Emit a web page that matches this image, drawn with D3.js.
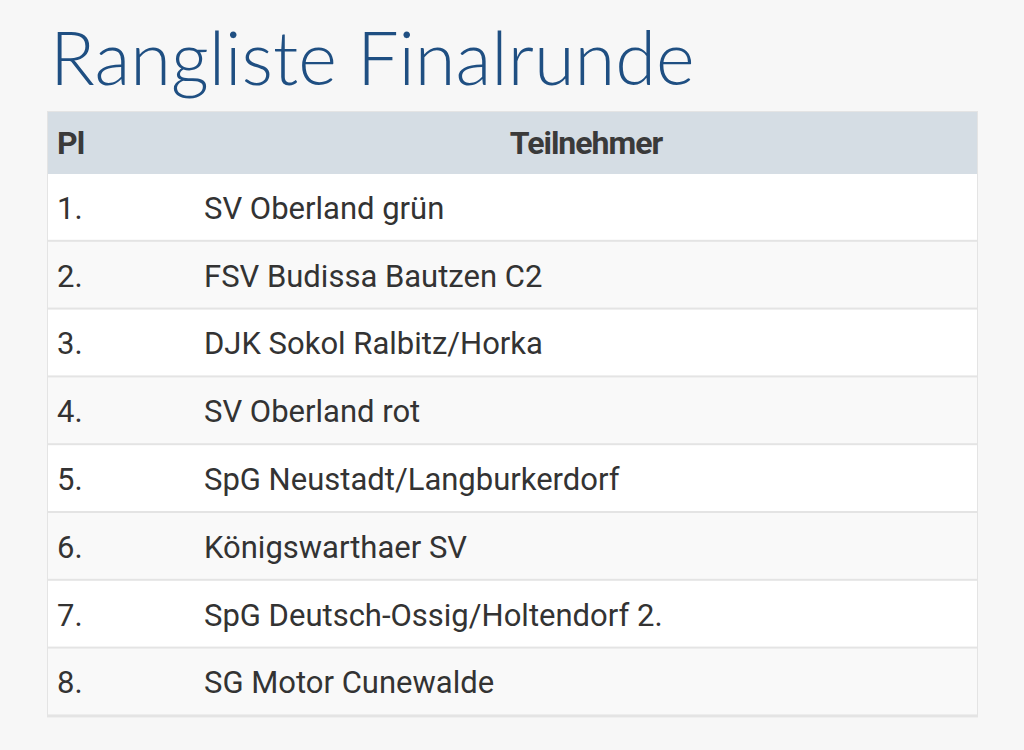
<!DOCTYPE html>
<html lang="de">
<head>
<meta charset="UTF-8">
<title>Rangliste Finalrunde</title>
<script src="https://d3js.org/d3.v7.min.js"></script>
<style>
  body { margin: 0; background: #f7f7f7; }
  svg { display: block; }
</style>
</head>
<body>
<div id="chart"></div>
<script>
// Daten
const platz = ["1.", "2.", "3.", "4.", "5.", "6.", "7.", "8."];
const teilnehmer = [
  "SV Oberland grün",
  "FSV Budissa Bautzen C2",
  "DJK Sokol Ralbitz/Horka",
  "SV Oberland rot",
  "SpG Neustadt/Langburkerdorf",
  "Königswarthaer SV",
  "SpG Deutsch-Ossig/Holtendorf 2.",
  "SG Motor Cunewalde"
];
const kopf = ["Pl", "Teilnehmer"];

const W = 1024, H = 750;
const tLeft = 48, tRight = 977, tTop = 112, headH = 62, rowH = 67.8;
const col2 = 195;

const svg = d3.select("#chart").append("svg")
  .attr("width", W).attr("height", H);

svg.append("rect").attr("width", W).attr("height", H).attr("fill", "#f7f7f7");

svg.append("text")
  .attr("x", 50).attr("y", 85)
  .attr("font-family", "Lato, 'Open Sans', sans-serif")
  .attr("font-weight", 300)
  .attr("font-size", 74)
  .attr("fill", "#1f4f82")
  .text("Rangliste Finalrunde");

// Zeilen-Skala
const y = d3.scaleBand()
  .domain(d3.range(platz.length))
  .range([tTop + headH, tTop + headH + rowH * platz.length]);

// Rahmen
svg.append("rect")
  .attr("x", tLeft - 1).attr("y", tTop - 1)
  .attr("width", tRight - tLeft + 2).attr("height", headH + rowH * platz.length + 2)
  .attr("fill", "#e4e4e4");

// Kopf
svg.append("rect")
  .attr("x", tLeft).attr("y", tTop)
  .attr("width", tRight - tLeft).attr("height", headH)
  .attr("fill", "#d5dde4");

const fontRow = "Roboto, 'Noto Sans', sans-serif";
svg.append("text")
  .attr("x", 57).attr("y", tTop + headH / 2 + 11)
  .attr("font-family", fontRow).attr("font-weight", 700)
  .attr("font-size", 32).attr("fill", "#3a3a3a")
  .attr("letter-spacing", -1)
  .text(kopf[0]);
svg.append("text")
  .attr("x", (col2 + tRight) / 2).attr("y", tTop + headH / 2 + 11)
  .attr("text-anchor", "middle")
  .attr("font-family", fontRow).attr("font-weight", 700)
  .attr("font-size", 32).attr("fill", "#3a3a3a")
  .attr("letter-spacing", -1)
  .text(kopf[1]);

// Zeilen
const rows = svg.selectAll(".row")
  .data(d3.range(platz.length))
  .enter().append("g")
  .attr("class", "row")
  .attr("transform", i => `translate(0, ${y(i)})`);

rows.append("rect")
  .attr("x", tLeft).attr("y", 0)
  .attr("width", tRight - tLeft).attr("height", y.bandwidth() - 2)
  .attr("fill", i => i % 2 ? "#f9f9f9" : "#ffffff");

rows.append("text")
  .attr("x", 57).attr("y", y.bandwidth() / 2 + 11)
  .attr("font-family", fontRow).attr("font-size", 31)
  .attr("fill", "#333")
  .text(i => platz[i]);

rows.append("text")
  .attr("x", 204).attr("y", y.bandwidth() / 2 + 11)
  .attr("font-family", fontRow).attr("font-size", 31)
  .attr("fill", "#333")
  .text(i => teilnehmer[i]);
</script>
</body>
</html>
